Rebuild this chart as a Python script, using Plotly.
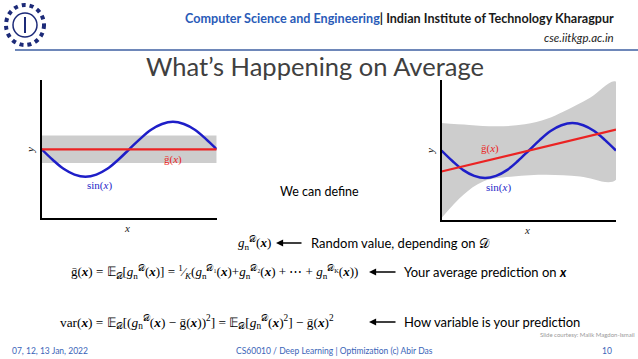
import plotly.graph_objects as go

W, H = 638, 359

# ---------------- data ----------------
# sin(x) curve samples over one period
sin_x = [0.0, 0.393, 0.785, 1.178, 1.571, 1.963, 2.356, 2.749, 3.142,
         3.534, 3.927, 4.320, 4.712, 5.105, 5.498, 5.890, 6.283]
sin_y = [0.0, -0.38, -0.71, -0.92, -1.0, -0.92, -0.71, -0.38, 0.0,
         0.38, 0.71, 0.92, 1.0, 0.92, 0.71, 0.38, 0.0]

# left chart: constant average model and its band
left_gbar_x = [0.0, 6.283]
left_gbar_y = [0.0, 0.0]
left_band_upper = [0.5, 0.5]
left_band_lower = [-0.5, -0.5]

# right chart: linear average model and its band
right_gbar_x = [0.0, 6.283]
right_gbar_y = [-0.76, 0.76]
right_upper_x = [0.0, 1.0, 2.0, 3.0, 3.8, 4.4, 5.35, 6.283]
right_upper_y = [1.0, 0.93, 0.88, 0.95, 1.15, 1.42, 1.92, 2.5]
right_lower_x = [0.0, 0.78, 1.5, 2.58, 3.78, 4.99, 6.283]
right_lower_y = [-2.45, -1.61, -1.12, -0.94, -0.88, -0.94, -1.06]

BLUE = "rgb(30,30,200)"
RED = "rgb(235,35,35)"
GRAY = "rgb(205,205,205)"


def px(x):
    return x / W


def py(y):
    return 1 - y / H


fig = go.Figure()

# ---- left chart ----
fig.add_trace(go.Scatter(x=left_gbar_x + left_gbar_x[::-1],
                         y=left_band_upper + left_band_lower[::-1],
                         fill="toself", fillcolor=GRAY, line=dict(width=0),
                         mode="lines", hoverinfo="skip", xaxis="x", yaxis="y"))
fig.add_trace(go.Scatter(x=sin_x, y=sin_y, mode="lines",
                         line=dict(color=BLUE, width=2.5, shape="spline"),
                         xaxis="x", yaxis="y"))
fig.add_trace(go.Scatter(x=left_gbar_x, y=left_gbar_y, mode="lines",
                         line=dict(color=RED, width=2.2), xaxis="x", yaxis="y"))

# ---- right chart ----
fig.add_trace(go.Scatter(x=right_upper_x + right_lower_x[::-1],
                         y=right_upper_y + right_lower_y[::-1],
                         fill="toself", fillcolor=GRAY,
                         line=dict(width=0, shape="spline"),
                         mode="lines", hoverinfo="skip", xaxis="x2", yaxis="y2"))
fig.add_trace(go.Scatter(x=sin_x, y=sin_y, mode="lines",
                         line=dict(color=BLUE, width=2.5, shape="spline"),
                         xaxis="x2", yaxis="y2"))
fig.add_trace(go.Scatter(x=right_gbar_x, y=right_gbar_y, mode="lines",
                         line=dict(color=RED, width=2.2), xaxis="x2", yaxis="y2"))

axis_common = dict(showgrid=False, zeroline=False, showticklabels=False,
                   ticks="", showline=True, linecolor="black", linewidth=1.5,
                   fixedrange=True)

fig.update_layout(
    width=W, height=H,
    margin=dict(l=0, r=0, t=0, b=0),
    paper_bgcolor="white", plot_bgcolor="rgba(0,0,0,0)",
    showlegend=False,
    xaxis=dict(domain=[px(41.7), px(216.7)], range=[0, 6.283], anchor="y", **axis_common),
    yaxis=dict(domain=[py(218.3), py(80)], range=[-2.51, 2.52], anchor="x", **axis_common),
    xaxis2=dict(domain=[px(441.5), px(616)], range=[0, 6.283], anchor="y2", **axis_common),
    yaxis2=dict(domain=[py(220), py(80)], range=[-2.52, 2.56], anchor="x2", **axis_common),
)

ann = []


def text(x, y, t, size, color="black", family="Lato", xanchor="center", angle=0):
    ann.append(dict(x=px(x), y=py(y), xref="paper", yref="paper", text=t,
                    showarrow=False, xanchor=xanchor, yanchor="middle",
                    font=dict(size=size, color=color, family=family),
                    textangle=angle))


def arrow(x_head, x_tail, y):
    ann.append(dict(x=px(x_head), y=py(y), xref="paper", yref="paper",
                    ax=x_tail - x_head, ay=0, axref="pixel", ayref="pixel",
                    text="", showarrow=True, arrowhead=2, arrowsize=1.1,
                    arrowwidth=1.3, arrowcolor="black"))


SERIF = "Liberation Serif"

# header
text(616, 19, "<b><span style='color:#2a5bb8'>Computer Science and Engineering</span>"
     "| Indian Institute of Technology Kharagpur</b>", 12.6, "#1a1a1a", xanchor="right")
text(616, 38, "<i>cse.iitkgp.ac.in</i>", 11.5, "#222", xanchor="right")
text(315, 66, "What’s Happening on Average", 25.5, "#404040")

# chart labels
text(30, 150, "<i>y</i>", 11, "#222", SERIF, angle=-90)
text(127, 228, "<i>x</i>", 11, "#222", SERIF)
text(99, 185, "sin(<i>x</i>)", 11, BLUE, SERIF)
text(173, 160, "ḡ(<i>x</i>)", 11, RED, SERIF)

text(430, 151, "<i>y</i>", 11, "#222", SERIF, angle=-90)
text(527, 230, "<i>x</i>", 11, "#222", SERIF)
text(498, 187, "sin(<i>x</i>)", 11, BLUE, SERIF)
text(490, 148, "ḡ(<i>x</i>)", 11, RED, SERIF)

text(319, 191, "We can define", 12.5, "black")

# formulas
G = "<i>g</i><sub>n</sub><sup>𝒟</sup>(<b><i>x</i></b>)"
text(254, 243, G, 13, "black", SERIF)
arrow(276, 303, 243)
text(309, 243, "Random value, depending on 𝒟", 13, "black", xanchor="left")

f2 = ("ḡ(<b><i>x</i></b>) = 𝔼<sub>𝒟</sub>[" + G + "] = "
      "<sup>1</sup>⁄<sub><i>K</i></sub>(<i>g</i><sub>n</sub><sup>𝒟₁</sup>(<b><i>x</i></b>)+"
      "<i>g</i><sub>n</sub><sup>𝒟₂</sup>(<b><i>x</i></b>) + ⋯ + "
      "<i>g</i><sub>n</sub><sup>𝒟<sub>K</sub></sup>(<b><i>x</i></b>))")
text(360, 272, f2, 13, "black", SERIF, xanchor="right")
arrow(369, 397, 272)
text(402, 272, "Your average prediction on <b><i>x</i></b>", 13, "black", xanchor="left")

f3 = ("var(<b><i>x</i></b>) = 𝔼<sub>𝒟</sub>[(" + G + " − ḡ(<b><i>x</i></b>))<sup>2</sup>] = "
      "𝔼<sub>𝒟</sub>[<i>g</i><sub>n</sub><sup>𝒟</sup>(<b><i>x</i></b>)<sup>2</sup>] − ḡ(<b><i>x</i></b>)<sup>2</sup>")
text(58, 322, f3, 13.3, "black", SERIF, xanchor="left")
arrow(369, 397, 322)
text(402, 322, "How variable is your prediction", 13, "black", xanchor="left")

# footer
text(637, 334, "Slide courtesy: Malik Magdon-Ismail", 6, "#999", xanchor="right")
text(10, 351, "07, 12, 13 Jan, 2022", 8.5, "#3a64b8", xanchor="left")
text(334, 351, "CS60010 / Deep Learning | Optimization (c) Abir Das", 8.5, "#3a64b8")
text(607, 351, "10", 8.5, "#3a64b8")

fig.update_layout(annotations=ann)

# header rule and simple logo
fig.add_shape(type="line", xref="paper", yref="paper", x0=px(15), x1=1,
              y0=py(50), y1=py(50), line=dict(color="rgb(110,135,185)", width=2))
fig.add_shape(type="circle", xref="paper", yref="paper", x0=px(6), x1=px(44),
              y0=py(45), y1=py(5), line=dict(color="#1c2a78", width=4, dash="dot"))
fig.add_shape(type="circle", xref="paper", yref="paper", x0=px(13), x1=px(37),
              y0=py(37), y1=py(13), line=dict(color="#1c2a78", width=1.5))
fig.add_shape(type="line", xref="paper", yref="paper", x0=px(25), x1=px(25),
              y0=py(33), y1=py(17), line=dict(color="#1c2a78", width=2))

fig.write_html("out.html", config={"displayModeBar": False},
               post_script="document.body.style.margin='0px';document.body.style.overflow='hidden';")
